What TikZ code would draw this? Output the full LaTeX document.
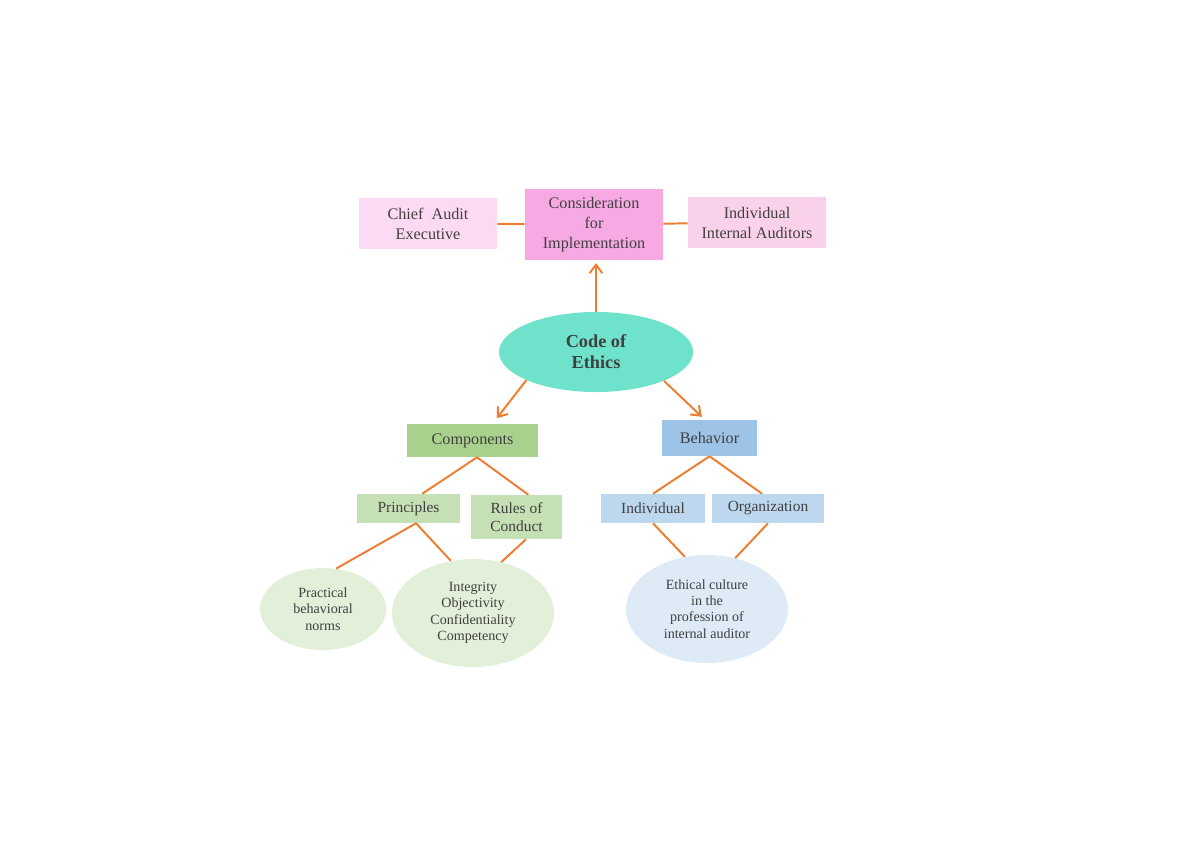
\documentclass[tikz,border=0pt]{standalone}
\usepackage{fontspec}
\setmainfont{Liberation Serif}
\usetikzlibrary{arrows.meta,shapes.geometric}
\definecolor{linkOrange}{HTML}{ED7D31}
\definecolor{textGray}{HTML}{404040}
\definecolor{chiefPink}{HTML}{FCDAF3}
\definecolor{considerPink}{HTML}{F7A9E4}
\definecolor{auditorPink}{HTML}{FAD1EA}
\definecolor{ethicsTeal}{HTML}{6EE2CB}
\definecolor{compGreen}{HTML}{A9D18E}
\definecolor{partGreen}{HTML}{C5E0B4}
\definecolor{leafGreen}{HTML}{E2F0D9}
\definecolor{behavBlue}{HTML}{9DC3E6}
\definecolor{partBlue}{HTML}{BDD7EE}
\definecolor{leafBlue}{HTML}{DEEBF7}
\newcommand{\topFont}[0]{\fontsize{11.5}{14.2}\selectfont}
\newcommand{\midFont}[0]{\fontsize{11}{12.5}\selectfont}
\newcommand{\leafFont}[0]{\fontsize{10}{11.6}\selectfont}

\begin{document}
\begin{tikzpicture}[x=0.025cm, y=-0.025cm]
  \tikzset{every node/.style={align=center, text=textGray, inner sep=1pt},
    topbox/.style={rectangle, minimum width=3.45cm, font=\topFont},
    partbox/.style={rectangle, minimum height=0.725cm, font=\midFont},
    leaf/.style={ellipse, font=\leafFont},
    link/.style={draw=linkOrange, line width=1.4pt},
    arrowlink/.style={link, -{Straight Barb[length=6pt,width=9pt]}}}
  \useasboundingbox (0,0) rectangle (1200,849);
  % top row
  \node[topbox, fill=chiefPink, minimum height=1.275cm] (chief) at (428,223.5) {Chief~~Audit\\Executive};
  \node[topbox, fill=considerPink, minimum height=1.775cm] (consider) at (594,224.5) {Consideration\\for\\Implementation};
  \node[topbox, fill=auditorPink, minimum height=1.275cm] (auditors) at (757,222.5) {Individual\\Internal Auditors};
  % centre
  \node[ellipse, fill=ethicsTeal, minimum width=4.85cm, minimum height=2cm,
        font=\fontsize{13}{15}\selectfont\bfseries] (ethics) at (596,352) {Code of\\Ethics};
  % left branch
  \node[rectangle, fill=compGreen, minimum width=3.275cm, minimum height=0.825cm, font=\topFont] (comp) at (472.5,440.5) {Components};
  \node[partbox, fill=partGreen, minimum width=2.575cm] (princ) at (408.5,508.5) {Principles};
  \node[partbox, fill=partGreen, minimum width=2.275cm, minimum height=1.1cm] (rules) at (516.5,517) {Rules of\\Conduct};
  \node[leaf, fill=leafGreen, minimum width=3.15cm, minimum height=2.05cm] (norms) at (323,609) {Practical\\behavioral\\norms};
  \node[leaf, fill=leafGreen, minimum width=4.05cm, minimum height=2.7cm] (values) at (473,613) {Integrity\\Objectivity\\Confidentiality\\Competency};
  % right branch
  \node[rectangle, fill=behavBlue, minimum width=2.375cm, minimum height=0.9cm, font=\topFont] (behav) at (709.5,438) {Behavior};
  \node[partbox, fill=partBlue, minimum width=2.6cm] (indiv) at (653,508.5) {Individual};
  \node[partbox, fill=partBlue, minimum width=2.8cm] (org) at (768,508.5) {Organization};
  \node[leaf, fill=leafBlue, minimum width=4.05cm, minimum height=2.7cm] (culture) at (707,609) {Ethical culture\\in the\\profession of\\internal auditor};
  % connectors
  \draw[link] (chief) -- (consider);
  \draw[link] (consider) -- (auditors);
  \draw[arrowlink, shorten >=2pt] (ethics.north) -- (ethics.north |- consider.south);
  \draw[arrowlink, shorten >=5pt] (ethics.202) -- (comp.40);
  \draw[arrowlink, shorten >=3pt] (ethics.337) -- (behav.104);
  \draw[link] (comp.-75) -- (princ.47);
  \draw[link] (comp.-75) -- (rules.62);
  \draw[link] (princ.-63) -- (norms.72);
  \draw[link] (princ.-63) -- (values.113);
  \draw[link] (rules.-67) -- (values.61);
  \draw[link] (behav.south) -- (indiv.north);
  \draw[link] (behav.south) -- (org.112);
  \draw[link] (indiv.south) -- (culture.113);
  \draw[link] (org.south) -- (culture.61);
\end{tikzpicture}
\end{document}
